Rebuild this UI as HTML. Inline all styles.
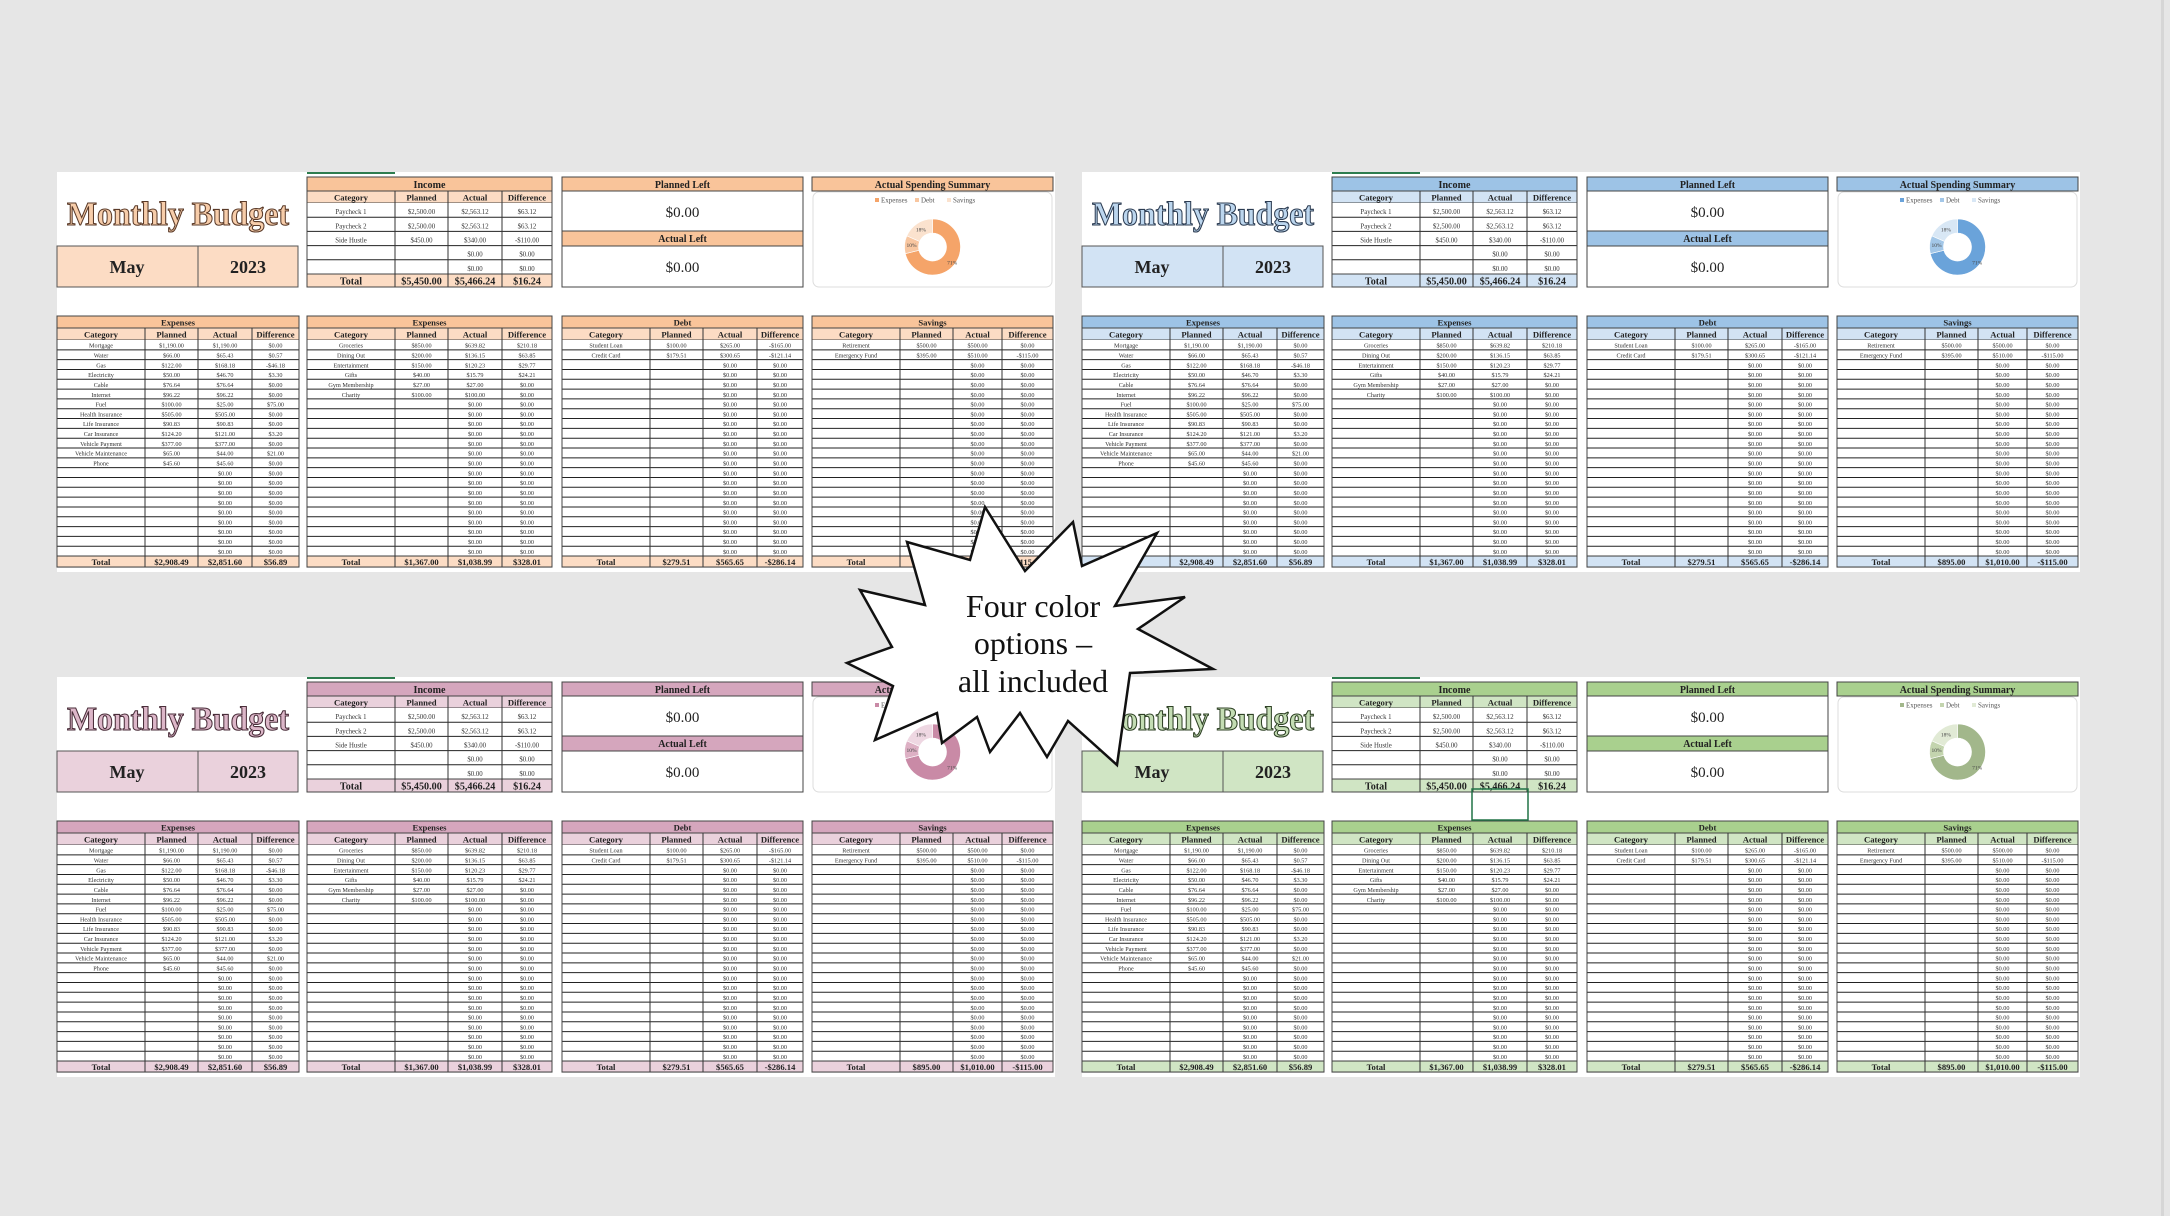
<!DOCTYPE html>
<html><head><meta charset="utf-8">
<style>
html,body{margin:0;padding:0;background:#e6e6e6;}
#root{position:relative;width:2170px;height:1216px;overflow:hidden;background:#e6e6e6;}
svg text{font-family:"Liberation Serif",serif;}
</style></head>
<body>
<div id="root">
<svg id="svg" width="2170" height="1216" viewBox="0 0 2170 1216" xmlns="http://www.w3.org/2000/svg">
<rect x="2161" y="0" width="3" height="1216" fill="#d6d6d6"/>
</svg>
</div>
<script>
// ---- data ----
const incomeCats = ['Paycheck 1','Paycheck 2','Side Hustle','',''];
const incomePlanned = [2500,2500,450,null,null];
const incomeActual = [2563.12,2563.12,340,0,0];
const exp1Cats = ['Mortgage','Water','Gas','Electricity','Cable','Internet','Fuel','Health Insurance','Life Insurance','Car Insurance','Vehicle Payment','Vehicle Maintenance','Phone'];
const exp1Planned = [1190,66,122,50,76.64,96.22,100,505,90.83,124.20,377,65,45.60];
const exp1Actual = [1190,65.43,168.18,46.70,76.64,96.22,25,505,90.83,121,377,44,45.60];
const exp2Cats = ['Groceries','Dining Out','Entertainment','Gifts','Gym Membership','Charity'];
const exp2Planned = [850,200,150,40,27,100];
const exp2Actual = [639.82,136.15,120.23,15.79,27,100];
const debtCats = ['Student Loan','Credit Card'];
const debtPlanned = [100,179.51];
const debtActual = [265,300.65];
const savCats = ['Retirement','Emergency Fund'];
const savPlanned = [500,395];
const savActual = [500,510];
const donutCats = ['Expenses','Debt','Savings'];

const themes = [
 {name:'peach',x:57,y:172,hdr:'#f9c49a',light:'#fcdcc4',title:'#f7cdaa',dark:'#5a3a28',d:['#f5a469','#f8c6a0','#fbe2ce']},
 {name:'blue',x:1082,y:172,hdr:'#9dc3e6',light:'#d2e3f4',title:'#bcd6ee',dark:'#2c3c52',d:['#6aa3da','#a3c7e8','#d8e7f5']},
 {name:'pink',x:57,y:677,hdr:'#d5a6bd',light:'#ead1dc',title:'#dcb6c8',dark:'#4a2e3a',d:['#c98aa6','#ddb0c4','#eed7e2']},
 {name:'green',x:1082,y:677,hdr:'#a9d08e',light:'#d0e5c4',title:'#c4ddb4',dark:'#2f4226',d:['#a2b78b','#c3d4ae','#e1ead5']}
];

const NS='http://www.w3.org/2000/svg';
const svg=document.getElementById('svg');
function mk(parent,tag,attrs,name){
  const el=document.createElementNS(NS,tag);
  for(const k in attrs) el.setAttribute(k,attrs[k]);
  
  
  parent.appendChild(el);
  return el;
}
function txt(parent,x,y,s,size,bold,name,anchor,fill){
  const t=mk(parent,'text',{x:x,y:y,'font-size':size,'font-weight':bold?'bold':'normal','text-anchor':anchor||'middle',fill:fill||'#222'},name);
  t.textContent=s;
  return t;
}
function fmt(v){
  if(v===null||v===undefined) return '';
  const neg=v<-0.0001; const a=Math.abs(v);
  const s=a.toFixed(2).replace(/\B(?=(\d{3})+(?!\d))/g,',');
  return (neg?'-$':'$')+s;
}
function sum(a){return a.reduce((p,c)=>p+(c||0),0);}

function drawTable(g,ox,oy,cols,title,cats,planned,actual,nRows,hH,cH,rH,tH,fs,th,key,sign){
  const W=cols[cols.length-1]-cols[0];
  const x0=ox+cols[0];
  mk(g,'rect',{x:x0,y:oy,width:W,height:hH,fill:th.hdr,stroke:'#444','stroke-width':1},key+'-title-bar');
  txt(g,x0+W/2,oy+hH*0.78,title,hH*0.72,true,key+'-title');
  const cy=oy+hH;
  mk(g,'rect',{x:x0,y:cy,width:W,height:cH,fill:th.light,stroke:'#444','stroke-width':1},key+'-column-header-row');
  const heads=['Category','Planned','Actual','Difference'];
  for(let i=0;i<4;i++){
    txt(g,ox+(cols[i]+cols[i+1])/2,cy+cH*0.8,heads[i],cH*0.72,true,key+'-col-'+heads[i].toLowerCase());
  }
  const ry=cy+cH;
  mk(g,'rect',{x:x0,y:ry,width:W,height:nRows*rH,fill:'#fff'},key+'-body');
  for(let r=0;r<nRows;r++){
    const y=ry+r*rH;
    mk(g,'line',{x1:x0,x2:x0+W,y1:y+rH,y2:y+rH,stroke:'#222','stroke-width':1},key+'-row-line');
    const c=cats[r]||'';
    const p=planned[r]===undefined?null:planned[r];
    const a=actual[r]===undefined?0:actual[r];
    const d=sign*((p||0)-a);
    const by=y+rH*0.78;
    if(c) txt(g,ox+(cols[0]+cols[1])/2,by,c,fs,false,key+'-category-cell','middle','#333');
    if(p!==null) txt(g,ox+(cols[1]+cols[2])/2,by,fmt(p),fs,false,key+'-planned-cell','middle','#333');
    txt(g,ox+(cols[2]+cols[3])/2,by,fmt(a),fs,false,key+'-actual-cell','middle','#333');
    txt(g,ox+(cols[3]+cols[4])/2,by,fmt(d),fs,false,key+'-difference-cell','middle','#333');
  }
  const ty=ry+nRows*rH;
  mk(g,'rect',{x:x0,y:ty,width:W,height:tH,fill:th.light,stroke:'#444','stroke-width':1},key+'-total-row');
  const tp=sum(planned), ta=sum(actual);
  const tv=['Total',fmt(tp),fmt(ta),fmt(sign*(tp-ta))];
  for(let i=0;i<4;i++) txt(g,ox+(cols[i]+cols[i+1])/2,ty+tH*0.8,tv[i],tH*0.78,true,key+'-total-cell');
  for(let i=0;i<cols.length;i++){
    mk(g,'line',{x1:ox+cols[i],x2:ox+cols[i],y1:cy,y2:ty+tH,stroke:'#333','stroke-width':1},key+'-col-line');
  }
  mk(g,'rect',{x:x0,y:oy,width:W,height:ty+tH-oy,fill:'none',stroke:'#444','stroke-width':1},key+'-border');
}

themes.forEach(th=>{
  const g=mk(svg,'g',{},'budget-panel-'+th.name);
  const ox=th.x, oy=th.y;
  mk(g,'rect',{x:ox,y:oy,width:998,height:400,fill:'#fff'},'panel-background');
  mk(g,'rect',{x:ox+250,y:oy,width:88,height:2,fill:'#2e7d4f'},'sheet-tab-indicator');
  const t=txt(g,ox+121,oy+53,'Monthly Budget',34,true,'monthly-budget-title','middle',th.title);
  t.setAttribute('stroke',th.dark);t.setAttribute('stroke-width','1.1');
  t.setAttribute('textLength','222');t.setAttribute('lengthAdjust','spacingAndGlyphs');
  mk(g,'rect',{x:ox,y:oy+74,width:141,height:41,fill:th.light,stroke:'#555','stroke-width':1},'month-box');
  mk(g,'rect',{x:ox+141,y:oy+74,width:100,height:41,fill:th.light,stroke:'#555','stroke-width':1},'year-box');
  txt(g,ox+70,oy+101,'May',18,true,'month-label');
  txt(g,ox+191,oy+101,'2023',18,true,'year-label');
  const ic=[250,338,391,445,495];
  drawTable(g,ox,oy+5,ic,'Income',incomeCats,incomePlanned,incomeActual,5,14,12,14.2,13,6.8,th,'income',-1);
  const px=ox+505, pw=241;
  mk(g,'rect',{x:px,y:oy+5,width:pw,height:14,fill:th.hdr,stroke:'#444'},'planned-left-header');
  txt(g,px+pw/2,oy+16,'Planned Left',10,true,'planned-left-title');
  mk(g,'rect',{x:px,y:oy+19,width:pw,height:40,fill:'#fff',stroke:'#444'},'planned-left-box');
  txt(g,px+pw/2,oy+45,fmt(0),15,false,'planned-left-value');
  mk(g,'rect',{x:px,y:oy+59,width:pw,height:15,fill:th.hdr,stroke:'#444'},'actual-left-header');
  txt(g,px+pw/2,oy+70,'Actual Left',10,true,'actual-left-title');
  mk(g,'rect',{x:px,y:oy+74,width:pw,height:41,fill:'#fff',stroke:'#444'},'actual-left-box');
  txt(g,px+pw/2,oy+100,fmt(0),15,false,'actual-left-value');
  const sx=ox+755, sw=241;
  mk(g,'rect',{x:sx,y:oy+5,width:sw,height:14,fill:th.hdr,stroke:'#444'},'summary-header');
  txt(g,sx+sw/2,oy+16,'Actual Spending Summary',10,true,'summary-title');
  mk(g,'rect',{x:sx+1,y:oy+20,width:sw-2,height:95,rx:6,fill:'#fff',stroke:'#ddd'},'summary-chart-box');
  const lx=[sx+63,sx+103,sx+135];
  donutCats.forEach((c,i)=>{
    mk(g,'rect',{x:lx[i],y:oy+26,width:4,height:4,fill:th.d[i]},'legend-swatch-'+c.toLowerCase());
    txt(g,lx[i]+6,oy+30.5,c,7,false,'legend-label-'+c.toLowerCase(),'start','#555');
  });
  const donutVals=[sum(exp1Actual)+sum(exp2Actual),sum(debtActual),sum(savActual)];
  const tot=sum(donutVals);
  const cx=sx+sw/2, cyy=oy+75, R=28, r=14;
  let a0=-Math.PI/2;
  donutVals.forEach((v,i)=>{
    const a1=a0+v/tot*2*Math.PI;
    const large=(a1-a0)>Math.PI?1:0;
    const p=`M${cx+R*Math.cos(a0)},${cyy+R*Math.sin(a0)} A${R},${R} 0 ${large} 1 ${cx+R*Math.cos(a1)},${cyy+R*Math.sin(a1)} L${cx+r*Math.cos(a1)},${cyy+r*Math.sin(a1)} A${r},${r} 0 ${large} 0 ${cx+r*Math.cos(a0)},${cyy+r*Math.sin(a0)} Z`;
    mk(g,'path',{d:p,fill:th.d[i],stroke:'#fff','stroke-width':0.6},'donut-slice-'+donutCats[i].toLowerCase());
    const am=(a0+a1)/2, lr=(R+r)/2+(i===0?4:0);
    txt(g,cx+lr*Math.cos(am),cyy+lr*Math.sin(am)+2,Math.round(v/tot*100)+'%',5.5,false,'donut-label-'+donutCats[i].toLowerCase(),'middle','#444');
    a0=a1;
  });
  const by=oy+144;
  drawTable(g,ox,by,[0,88,141,195,242],'Expenses',exp1Cats,exp1Planned,exp1Actual,22,12,12,9.82,11,6.2,th,'expenses-fixed',1);
  drawTable(g,ox,by,ic,'Expenses',exp2Cats,exp2Planned,exp2Actual,22,12,12,9.82,11,6.2,th,'expenses-variable',1);
  drawTable(g,ox,by,[505,593,646,700,746],'Debt',debtCats,debtPlanned,debtActual,22,12,12,9.82,11,6.2,th,'debt',1);
  drawTable(g,ox,by,[755,843,896,945,996],'Savings',savCats,savPlanned,savActual,22,12,12,9.82,11,6.2,th,'savings',1);
});
mk(svg,'rect',{x:1472,y:789,width:56,height:31,fill:'none',stroke:'#217346','stroke-width':1.5},'selected-cell');

const star=[[985,507],[1025,571],[1073,522],[1082,566],[1157,533],[1115,606],[1185,597],[1138,629],[1213,669],[1130,673],[1117,765],[1068,721],[1047,757],[1020,713],[990,752],[977,717],[942,743],[937,713],[875,740],[893,686],[847,663],[892,647],[860,590],[925,605],[907,542],[970,560]];
const sg=mk(svg,'g',{},'starburst-callout');
mk(sg,'polygon',{points:star.map(p=>p.join(',')).join(' '),fill:'#fff',stroke:'#111','stroke-width':2.5,'stroke-linejoin':'miter'},'starburst-shape');
txt(sg,1033,617,'Four color',32,false,'callout-line-1','middle','#111');
txt(sg,1033,654,'options –',32,false,'callout-line-2','middle','#111');
txt(sg,1033,692,'all included',32,false,'callout-line-3','middle','#111');
</script>
</body></html>
